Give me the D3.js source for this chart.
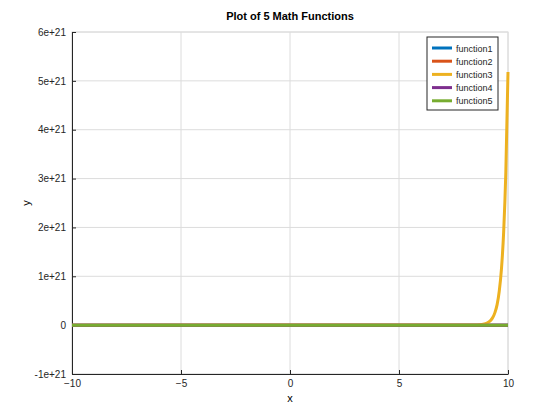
<!DOCTYPE html>
<html><head><meta charset="utf-8">
<script src="https://cdn.jsdelivr.net/npm/d3@7"></script>
<style>body{margin:0;background:#fff}text{font-family:"Liberation Sans",Arial,sans-serif}</style>
</head><body><svg id="c" width="560" height="420"></svg>
<script>
var names = ["function1","function2","function3","function4","function5"];
var colors = ["#0072BD","#D95319","#EDB120","#7E2F8E","#77AC30"];
var flatX = [-10, 10], flatY = [0, 0];
var f3X = [-10, 8.6, 8.8, 9.0, 9.1, 9.2, 9.3, 9.4, 9.5, 9.6, 9.7, 9.8, 9.9, 10];
var f3Y = [0, 0.005e21, 0.013e21, 0.035e21, 0.057e21, 0.094e21, 0.155e21, 0.256e21, 0.42e21, 0.70e21, 1.15e21, 1.9e21, 3.13e21, 5.18e21];
var xTicks = [-10, -5, 0, 5, 10];
var yTicks = [-1e21, 0, 1e21, 2e21, 3e21, 4e21, 5e21, 6e21];
var yLabels = ["-1e+21","0","1e+21","2e+21","3e+21","4e+21","5e+21","6e+21"];

var svg = d3.select("#c"),
	pLeft = 72, pRight = 508, pTop = 32, pBottom = 374;
var x = d3.scaleLinear().domain([-10, 10]).range([pLeft, pRight]);
var y = d3.scaleLinear().domain([-1e21, 6e21]).range([pBottom, pTop]);

// grid
svg.append("g").selectAll("line").data(xTicks).enter().append("line")
	.attr("x1", d => x(d)).attr("x2", d => x(d)).attr("y1", pTop).attr("y2", pBottom)
	.attr("stroke", "#dcdcdc");
svg.append("g").selectAll("line").data(yTicks).enter().append("line")
	.attr("y1", d => y(d)).attr("y2", d => y(d)).attr("x1", pLeft).attr("x2", pRight)
	.attr("stroke", "#dcdcdc");
svg.append("rect").attr("x", pLeft).attr("y", pTop).attr("width", pRight-pLeft).attr("height", pBottom-pTop)
	.attr("fill", "none").attr("stroke", "#dcdcdc");

// axes
var xa = svg.append("g").attr("transform", "translate(0," + pBottom + ")")
	.call(d3.axisBottom(x).tickValues(xTicks).tickSizeInner(-4).tickSizeOuter(0).tickPadding(6));
var ya = svg.append("g").attr("transform", "translate(" + pLeft + ",0)")
	.call(d3.axisLeft(y).tickValues(yTicks).tickFormat((d, i) => yLabels[i]).tickSizeInner(-4).tickSizeOuter(0).tickPadding(6));
[xa, ya].forEach(function (a) {
	a.selectAll("text").attr("font-size", 10).attr("fill", "#262626");
	a.selectAll("line,path").attr("stroke", "#262626");
});

// lines
var line = d3.line().x(d => x(d[0])).y(d => y(d[1])).curve(d3.curveMonotoneX);
var series = names.map(function (n, i) {
	var xs = i == 2 ? f3X : flatX, ys = i == 2 ? f3Y : flatY;
	return xs.map((v, j) => [v, ys[j]]);
});
svg.append("g").selectAll("path").data(series).enter().append("path")
	.attr("d", line).attr("fill", "none").attr("stroke-width", 3)
	.attr("stroke", (d, i) => colors[i]);

// titles
svg.append("text").attr("x", (pLeft+pRight)/2).attr("y", 20).attr("text-anchor", "middle")
	.attr("font-size", 11).attr("font-weight", "bold").text("Plot of 5 Math Functions");
svg.append("text").attr("x", (pLeft+pRight)/2).attr("y", 402).attr("text-anchor", "middle")
	.attr("font-size", 11).text("x");
svg.append("text").attr("transform", "translate(30," + ((pTop+pBottom)/2) + ") rotate(-90)")
	.attr("text-anchor", "middle").attr("font-size", 11).text("y");

// legend
var lg = svg.append("g").attr("transform", "translate(427,37)");
lg.append("rect").attr("width", 71).attr("height", 73).attr("fill", "#fff").attr("stroke", "#262626");
var it = lg.selectAll("g").data(names).enter().append("g")
	.attr("transform", (d, i) => "translate(0," + (11 + i * 13.2) + ")");
it.append("line").attr("x1", 5).attr("x2", 25).attr("stroke-width", 3).attr("stroke", (d, i) => colors[i]);
it.append("text").attr("x", 29).attr("y", 3.5).attr("font-size", 9).attr("fill", "#262626").text(d => d);
</script></body></html>
